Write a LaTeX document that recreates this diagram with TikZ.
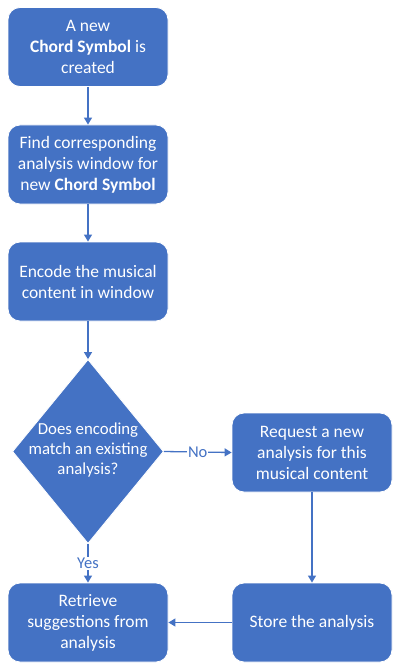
\documentclass[tikz,border=0pt]{standalone}
\usepackage{fontspec}
\setmainfont{Carlito}
\usetikzlibrary{shapes.geometric,arrows.meta}
\definecolor{ofblue}{HTML}{4472C4}
\tikzset{
  box/.style={rectangle, rounded corners=12pt, fill=ofblue, draw=white, line width=0.8pt,
    minimum width=160pt, minimum height=79pt, inner sep=2pt, text=white, align=center,
    font=\fontsize{17.5}{21}\selectfont},
  conn/.style={draw=ofblue, line width=1.3pt, -{Triangle[length=7pt,width=8pt]}},
  lbl/.style={fill=white, text=ofblue, inner sep=1pt, font=\fontsize{16.5}{18}\selectfont}
}
\begin{document}
\begin{tikzpicture}[x=1pt,y=-1pt]
\useasboundingbox (0,0) rectangle (400,671);
\node[box] (b1) at (88,47) {A new\\\textbf{Chord Symbol} is\\created};
\node[box] (b2) at (88,164.5) {Find corresponding\\analysis window for\\new \textbf{Chord Symbol}};
\node[box] (b3) at (88,281.5) {Encode the musical\\content in window};
\node[diamond, fill=ofblue, draw=white, line width=0.8pt, minimum width=151pt, minimum height=184pt, inner sep=0pt] (dia) at (88,451.5) {};
\node[text=white, align=center, font=\fontsize{16.8}{20}\selectfont] (diat) at ([yshift=1pt]dia.center) {Does encoding\\match an existing\\analysis?};
\node[box] (req) at (312,452.5) {Request a new\\analysis for this\\musical content};
\node[box] (sto) at (312,622.5) {Store the analysis};
\node[box] (ret) at (88,622.5) {Retrieve\\suggestions from\\analysis};
\draw[conn] (b1) -- (b2);
\draw[conn] (b2) -- (b3);
\draw[conn] (b3) -- (dia.north);
\draw[conn] (dia.east) -- node[lbl] (no) {No} (req.west);
\draw[conn] (dia.south) -- node[lbl, pos=0.5] (yes) {Yes} (ret.north);
\draw[conn] (req) -- (sto);
\draw[conn] (sto) -- (ret);
\end{tikzpicture}
\end{document}
